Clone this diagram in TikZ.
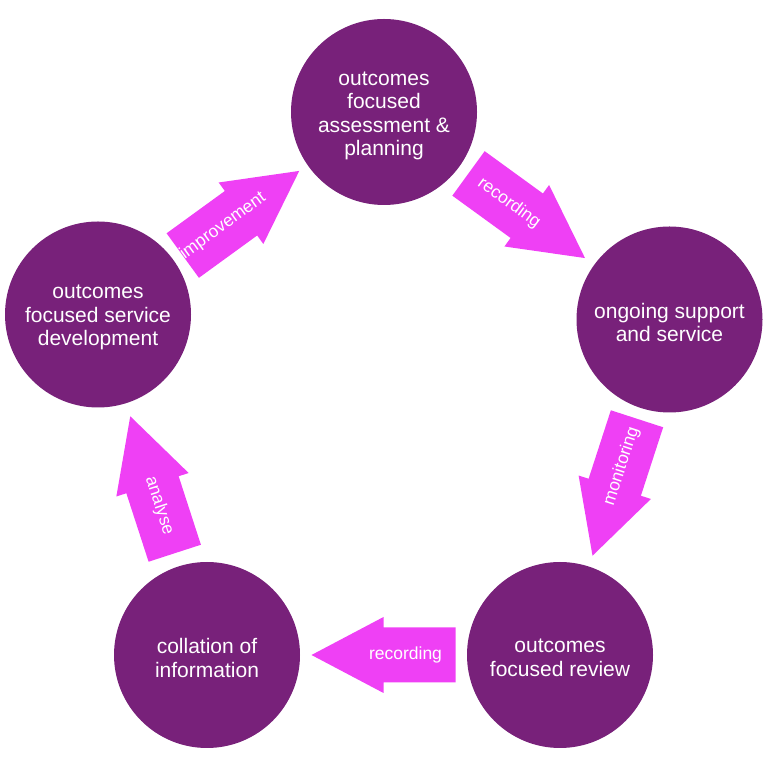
\documentclass[tikz,border=0pt]{standalone}
\usepackage{fontspec}
\setmainfont{Liberation Sans}
\usetikzlibrary{calc}
\definecolor{circpurple}{RGB}{120,33,122}
\definecolor{arrowpink}{RGB}{239,64,245}
\tikzset{
  circ/.style={circle, fill=circpurple, minimum size=186pt, inner sep=0pt},
  circtext/.style={text=white, align=center, inner sep=0pt, font=\fontsize{21}{23.5}\selectfont},
  arrowfill/.style={fill=arrowpink},
  arrowtext/.style={text=white, inner sep=0pt, font=\fontsize{17.5}{20}\selectfont}
}
% #1 from, #2 to, #3 direction angle, #4 text rotation, #5 node name, #6 text
\newcommand{\blockarrow}[6]{%
  \coordinate (#5m) at ($(#1)!0.5!(#2)$);
  \fill[arrowfill, shift={(#5m)}, rotate=#3] (-72,-27.5) -- (0,-27.5) -- (0,-38) -- (72,0) -- (0,38) -- (0,27.5) -- (-72,27.5) -- cycle;
  \node[arrowtext, rotate=#4] (#5) at ($(#5m)!22pt!(#1)$) {#6};
}
\begin{document}
\begin{tikzpicture}[x=1pt,y=1pt]
\useasboundingbox (0,0) rectangle (768,768);
\node[circ] (c1) at (384,656) {};
\node[circ] (c2) at (669.5,448.5) {};
\node[circ] (c3) at (560,113) {};
\node[circ] (c4) at (207,113) {};
\node[circ] (c5) at (98,453.5) {};
\node[circtext] (t1) at ($(c1)+(0,-4)$) {outcomes\\focused\\assessment \&\\planning};
\node[circtext] (t2) at ($(c2)+(0,-3)$) {ongoing support\\and service};
\node[circtext] (t3) at ($(c3)+(0,-3)$) {outcomes\\focused review};
\node[circtext] (t4) at ($(c4)+(0,-3)$) {collation of\\information};
\node[circtext] (t5) at ($(c5)+(0,-3)$) {outcomes\\focused service\\development};
\blockarrow{c1}{c2}{-36}{-36}{a1}{recording}
\blockarrow{c2}{c3}{-108}{72}{a2}{monitoring}
\blockarrow{c3}{c4}{180}{0}{a3}{recording}
\blockarrow{c4}{c5}{108}{-72}{a4}{analyse}
\blockarrow{c5}{c1}{36}{36}{a5}{improvement}
\end{tikzpicture}
\end{document}
